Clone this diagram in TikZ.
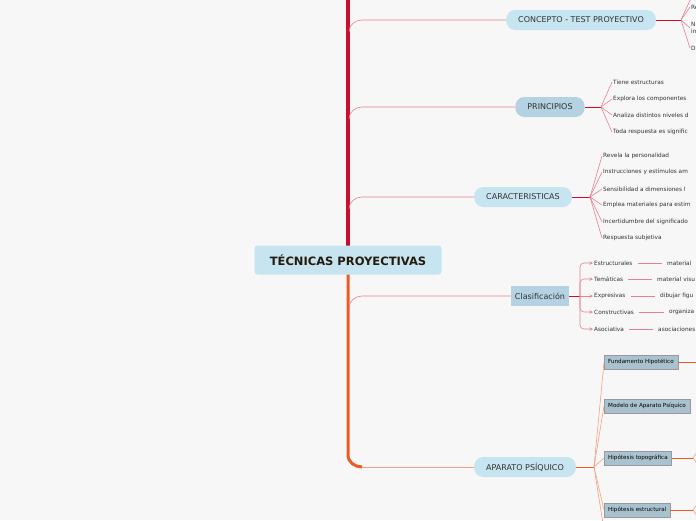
\documentclass[tikz,border=0pt]{standalone}
\usepackage{fontspec}
\setmainfont{DejaVu Sans}
\definecolor{bg}{HTML}{F7F7F7}
\definecolor{crim}{HTML}{C8102E}
\definecolor{orng}{HTML}{EE5A24}
\definecolor{pinkl}{HTML}{E8808F}
\definecolor{orl}{HTML}{F5A080}
\definecolor{nodeb}{HTML}{C6E5F0}
\definecolor{nodeb2}{HTML}{B4D2E2}
\definecolor{boxg}{HTML}{A9C2CF}
\definecolor{txt}{HTML}{333333}
\begin{document}
\begin{tikzpicture}[x=1pt,y=-1pt,
  main/.style={fill=nodeb,rounded corners=3pt,minimum width=187pt,minimum height=29pt,font=\fontsize{11.5}{13}\selectfont\bfseries,text=black!80!brown},
  topic/.style={fill=nodeb,rounded corners=9pt,minimum height=20pt,inner xsep=12pt,font=\fontsize{8}{9}\selectfont,text=txt},
  leaf/.style={anchor=west,inner sep=1pt,font=\fontsize{5.8}{7}\selectfont,text=txt},
  gbox/.style={fill=boxg,draw=gray!80,anchor=west,minimum height=14pt,inner xsep=4pt,font=\fontsize{5.6}{6.5}\selectfont,text=black},
  pl/.style={pinkl,line width=0.6pt},
  ol/.style={orl,line width=0.6pt}]
\fill[bg] (0,0) rectangle (696,520);
\useasboundingbox (0,0) rectangle (696,520);
\clip (0,0) rectangle (696,520);
% spine
\draw[crim,line width=4pt] (348,0) -- (348,250);
\draw[orng,line width=3pt] (348,270) -- (348,455) to[out=-90,in=180] (362,467);
% topics
\node[main] (c) at (348,260) {TÉCNICAS PROYECTIVAS};
\node[topic] (t1) at (581,20) {CONCEPTO - TEST PROYECTIVO};
\node[topic,fill=nodeb2] (t2) at (550,107) {PRINCIPIOS};
\node[topic] (t3) at (523,197) {CARACTERISTICAS};
\node[fill=nodeb2,minimum width=58pt,minimum height=20pt,font=\fontsize{8}{9}\selectfont,text=txt] (t4) at (540,296) {Clasificación};
\node[topic] (t5) at (525,467) {APARATO PSÍQUICO};
\foreach \y/\n in {20/t1,107/t2,197/t3,296/t4}{
  \draw[pl] (349,\y+12) to[out=90,in=180] (362,\y) -- (\n.west);
}
\draw[ol] (362,467) -- (t5.west);
% concepto leaves
\coordinate (f1) at (681,20);
\draw[crim,line width=1pt] (t1.east) -- (f1);
\node[leaf] (a1) at (690,7) {Re};
\node[leaf,align=left] (a2) at (690,28) {N\\in};
\node[leaf] (a3) at (690,48) {D};
\foreach \n in {a1,a2,a3}{\draw[pl] (f1) -- (\n.west);}
\draw[pl] (f1) -- (692,-4);
% principios
\coordinate (f2) at (601,107);
\draw[crim,line width=1pt] (t2.east) -- (f2);
\node[leaf] (p1) at (612,82) {Tiene estructuras};
\node[leaf] (p2) at (612,99) {Explora los componentes};
\node[leaf] (p3) at (612,115) {Analiza distintos niveles d};
\node[leaf] (p4) at (612,132) {Toda respuesta es signific};
\foreach \n in {p1,p2,p3,p4}{\draw[pl] (f2) -- (\n.west);}
% caracteristicas
\coordinate (f3) at (590,197);
\draw[crim,line width=1pt] (t3.east) -- (f3);
\node[leaf] (k1) at (602,156) {Revela la personalidad};
\node[leaf] (k2) at (602,172) {Instrucciones y estímulos am};
\node[leaf] (k3) at (602,189) {Sensibilidad a dimensiones l};
\node[leaf] (k4) at (602,205) {Emplea materiales para estim};
\node[leaf] (k5) at (602,222) {Incertidumbre del significado};
\node[leaf] (k6) at (602,238) {Respuesta subjetiva};
\foreach \n in {k1,k2,k3,k4,k5,k6}{\draw[pl] (f3) -- (\n.west);}
% clasificacion
\coordinate (f4) at (580,296);
\draw[crim,line width=1pt] (t4.east) -- (f4);
\foreach \y/\a/\b/\bx [count=\i] in {263/Estructurales/material/666, 279/Temáticas/material visu/656, 296/Expresivas/dibujar figu/659, 312/Constructivas/organiza/668, 329/Asociativa/asociaciones/657}{
  \node[leaf] (c\i) at (593,\y) {\a};
  \node[leaf] (d\i) at (\bx,\y) {\b};
  \draw[pl] (c\i.east) ++(4,0) -- ([xshift=-4pt]d\i.west);
}
\draw[pl,->,>=stealth] (f4) |- (c3.west);
\draw[pl,->,>=stealth,rounded corners=4pt] (f4) |- (c1.west);
\draw[pl,->,>=stealth,rounded corners=4pt] (f4) |- (c2.west);
\draw[pl,->,>=stealth,rounded corners=4pt] (f4) |- (c4.west);
\draw[pl,->,>=stealth,rounded corners=4pt] (f4) |- (c5.west);
% aparato
\coordinate (f5) at (594,467);
\draw[orng,line width=1pt] (t5.east) -- (f5);
\node[gbox] (b1) at (604,362) {Fundamento Hipotético};
\node[gbox] (b2) at (604,406) {Modelo de Aparato Psíquico};
\node[gbox] (b3) at (604,458) {Hipótesis topográfica};
\node[gbox] (b4) at (604,510) {Hipótesis estructural};
\foreach \n in {b1,b2,b3,b4}{\draw[ol] (f5) -- (\n.west);}
\draw[ol] (f5) -- (604,530);
\coordinate (e3) at (693,458);
\coordinate (e4) at (693,510);
\draw[orng,line width=0.8pt] (b1.east) -- (696,362);
\draw[orng,line width=0.8pt] (b3.east) -- (e3);
\draw[orng,line width=0.8pt] (b4.east) -- (e4);
\draw[ol] (e3) -- (700,448) (e3) -- (700,468);
\draw[ol] (e4) -- (700,500) (e4) -- (700,520);
\end{tikzpicture}
\end{document}
